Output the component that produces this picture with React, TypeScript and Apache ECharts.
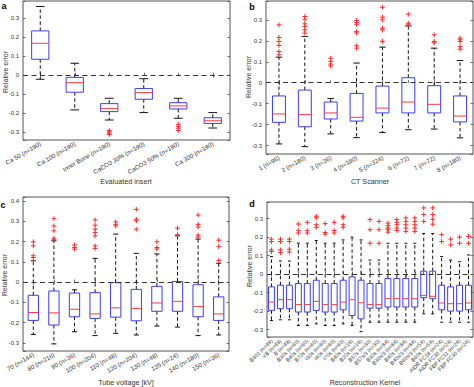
import React, { useEffect, useRef } from 'react';
import * as echarts from 'echarts';

// ---------- data: [min, Q1, median, Q3, max] ----------
const catsA = ['Ca 50 (n=190)', 'Ca 100 (n=190)', 'Inner Bone (n=190)', 'CaCO3 30% (n=190)', 'CaCO3 50% (n=190)', 'Ca 300 (n=190)'];
const boxesA = [
  [-0.021, 0.084, 0.168, 0.233, 0.361],
  [-0.182, -0.089, -0.039, -0.011, 0.063],
  [-0.235, -0.191, -0.175, -0.149, -0.121],
  [-0.196, -0.126, -0.091, -0.07, -0.018],
  [-0.226, -0.177, -0.161, -0.144, -0.121],
  [-0.277, -0.253, -0.239, -0.223, -0.196],
];
const outliersA = [
  [2, -0.29], [2, -0.297], [2, -0.304], [2, -0.311],
  [4, -0.258], [4, -0.268], [4, -0.278], [4, -0.29],
];

const catsB = ['1 (n=96)', '2 (n=180)', '3 (n=36)', '4 (n=180)', '5 (n=324)', '6 (n=72)', '7 (n=72)', '8 (n=180)'];
const boxesB = [
  [-0.292, -0.189, -0.149, -0.063, 0.122],
  [-0.305, -0.21, -0.152, -0.035, 0.221],
  [-0.244, -0.173, -0.144, -0.092, -0.075],
  [-0.262, -0.183, -0.165, -0.051, 0.094],
  [-0.237, -0.144, -0.121, -0.016, 0.17],
  [-0.224, -0.144, -0.092, 0.024, 0.271],
  [-0.221, -0.144, -0.103, -0.014, 0.165],
  [-0.263, -0.187, -0.159, -0.063, 0.106],
];
const outliersB = [
  [0, 0.276], [0, 0.216], [0, 0.197], [0, 0.178], [0, 0.149], [0, 0.133],
  [1, 0.316], [1, 0.303], [1, 0.281], [1, 0.268], [1, 0.252], [1, 0.237],
  [2, 0.117], [2, 0.102], [2, 0.089], [2, 0.08],
  [3, 0.297], [3, 0.287], [3, 0.279], [3, 0.244], [3, 0.237], [3, 0.176], [3, 0.165],
  [4, 0.36], [4, 0.313], [4, 0.3], [4, 0.26], [4, 0.252], [4, 0.197],
  [5, 0.327], [5, 0.284], [5, 0.276],
  [6, 0.229], [6, 0.197], [6, 0.19],
  [7, 0.213], [7, 0.205], [7, 0.197], [7, 0.173], [7, 0.16],
];

const catsC = ['70 (n=144)', '80 (n=216)', '90 (n=36)', '100 (n=204)', '110 (n=48)', '120 (n=204)', '130 (n=48)', '135 (n=24)', '140 (n=180)', '150 (n=36)'];
const boxesC = [
  [-0.258, -0.189, -0.15, -0.065, 0.105],
  [-0.305, -0.212, -0.152, -0.044, 0.204],
  [-0.245, -0.171, -0.134, -0.054, -0.038],
  [-0.264, -0.179, -0.157, -0.052, 0.117],
  [-0.253, -0.173, -0.127, -0.003, 0.237],
  [-0.261, -0.191, -0.131, -0.036, 0.142],
  [-0.217, -0.144, -0.103, -0.021, 0.139],
  [-0.222, -0.144, -0.095, 0.003, 0.228],
  [-0.264, -0.171, -0.121, -0.013, 0.212],
  [-0.261, -0.189, -0.157, -0.073, 0.093],
];
const outliersC = [
  [0, 0.199], [0, 0.179], [0, 0.13], [0, 0.121],
  [1, 0.313], [1, 0.277], [1, 0.253], [1, 0.217], [1, 0.209],
  [2, 0.183], [2, 0.171], [2, 0.163],
  [3, 0.307], [3, 0.281], [3, 0.261], [3, 0.245], [3, 0.228], [3, 0.179], [3, 0.166],
  [4, 0.297], [4, 0.285], [4, 0.277],
  [5, 0.359], [5, 0.31], [5, 0.302], [5, 0.261],
  [6, 0.199], [6, 0.171], [6, 0.163],
  [7, 0.266], [7, 0.234],
  [8, 0.331], [8, 0.285], [8, 0.272], [8, 0.232], [8, 0.222],
  [9, 0.207], [9, 0.175], [9, 0.106],
];

const catsD = [
  'B401 (n=48)', 'YB (n=48)', 'B (n=48)', 'B30s (n=60)', 'B40s (n=60)', 'B70s (n=60)',
  'I30s (n=60)', 'I40s (n=60)', 'I70s (n=60)', 'B40s (n=18)', 'B20s (n=18)', 'B57s (n=30)',
  'B57s/3 (n=30)', 'B30s (n=84)', 'B30s/3 (n=84)', 'B40s (n=84)', 'B40s/3 (n=84)', 'B60s/3 (n=54)',
  'B60s (n=54)', 'AIDR FC18 (n=24)', 'AIDR FC30 (n=24)', 'FBP FC11 (n=24)', 'FBP FC30 (n=24)',
];
const boxesD = [
  [-0.251, -0.196, -0.151, -0.069, 0.095],
  [-0.247, -0.187, -0.138, -0.06, 0.071],
  [-0.247, -0.187, -0.138, -0.06, 0.071],
  [-0.278, -0.205, -0.165, -0.051, 0.167],
  [-0.278, -0.205, -0.165, -0.051, 0.167],
  [-0.269, -0.196, -0.147, -0.033, 0.182],
  [-0.278, -0.205, -0.165, -0.051, 0.167],
  [-0.278, -0.205, -0.165, -0.051, 0.167],
  [-0.269, -0.193, -0.151, -0.033, 0.185],
  [-0.278, -0.224, -0.138, -0.015, 0.2],
  [-0.311, -0.242, -0.155, -0.033, 0.185],
  [-0.26, -0.184, -0.164, -0.051, 0.076],
  [-0.26, -0.184, -0.165, -0.051, 0.076],
  [-0.26, -0.178, -0.133, -0.024, 0.167],
  [-0.26, -0.178, -0.133, -0.024, 0.167],
  [-0.26, -0.178, -0.133, -0.024, 0.167],
  [-0.26, -0.178, -0.133, -0.024, 0.167],
  [-0.215, -0.127, -0.115, 0.016, 0.22],
  [-0.215, -0.133, -0.12, 0.016, 0.22],
  [-0.26, -0.193, -0.156, -0.06, 0.095],
  [-0.26, -0.2, -0.16, -0.069, 0.076],
  [-0.26, -0.2, -0.16, -0.06, 0.067],
  [-0.26, -0.193, -0.156, -0.06, 0.104],
];
const outliersD = [
  [0, 0.189], [0, 0.176], [0, 0.131], [0, 0.122],
  [1, 0.189], [1, 0.176], [1, 0.131], [1, 0.116],
  [2, 0.189], [2, 0.176], [2, 0.135], [2, 0.12],
  [3, 0.271], [3, 0.235], [3, 0.222],
  [4, 0.28], [4, 0.235], [4, 0.222],
  [5, 0.313], [5, 0.304], [5, 0.267], [5, 0.253],
  [6, 0.273], [6, 0.225], [6, 0.216],
  [7, 0.28], [7, 0.236], [7, 0.222],
  [8, 0.313], [8, 0.304], [8, 0.267], [8, 0.253],
  [11, 0.295], [11, 0.24], [11, 0.167],
  [12, 0.285], [12, 0.24], [12, 0.167],
  [13, 0.276], [13, 0.262], [13, 0.249], [13, 0.24], [13, 0.227],
  [14, 0.295], [14, 0.28], [14, 0.267], [14, 0.249], [14, 0.236],
  [15, 0.304], [15, 0.285], [15, 0.267], [15, 0.249], [15, 0.231],
  [16, 0.304], [16, 0.285], [16, 0.267], [16, 0.249], [16, 0.231],
  [17, 0.358], [17, 0.322], [17, 0.285],
  [18, 0.358], [18, 0.322], [18, 0.296], [18, 0.27],
  [19, 0.213], [19, 0.176],
  [20, 0.189], [20, 0.158],
  [21, 0.2], [21, 0.167],
  [22, 0.204], [22, 0.167],
];

const FONT = '"Liberation Sans", Arial, sans-serif';
const BOX = '#3d3df2';
const MED = '#ff3b3b';
const OUT = '#ff2b2b';

const panels = [
  { cats: catsA, boxes: boxesA, outliers: outliersA, grid: { left: 23, top: 1, width: 207, height: 139 }, yMax: 0.39, rotate: 30, labelSize: 6.2, ratio: 0.5 },
  { cats: catsB, boxes: boxesB, outliers: outliersB, grid: { left: 266, top: 1, width: 207, height: 153 }, yMax: 0.39, rotate: 30, labelSize: 6.2, ratio: 0.5 },
  { cats: catsC, boxes: boxesC, outliers: outliersC, grid: { left: 23, top: 197, width: 206, height: 154 }, yMax: 0.42, rotate: 30, labelSize: 6.2, ratio: 0.5 },
  { cats: catsD, boxes: boxesD, outliers: outliersD, grid: { left: 267, top: 202, width: 206, height: 135 }, yMax: 0.39, rotate: 45, labelSize: 5.4, ratio: 0.66 },
];

function boxRender(ratio: number) {
  return (_params: any, api: any) => {
    const i = api.value(0);
    const mn = api.value(1), q1 = api.value(2), md = api.value(3), q3 = api.value(4), mx = api.value(5);
    const band = api.size([1, 0])[0];
    const bw = band * ratio;
    const cw = bw / 2;
    const p = (v: number) => api.coord([i, v]);
    const x = p(md)[0];
    const yMin = p(mn)[1], yQ1 = p(q1)[1], yMd = p(md)[1], yQ3 = p(q3)[1], yMax = p(mx)[1];
    const dash = { stroke: '#111', lineWidth: 1, lineDash: [3.5, 2.5] };
    const solid = { stroke: '#111', lineWidth: 1 };
    return {
      type: 'group',
      children: [
        { type: 'line', shape: { x1: x, y1: yQ3, x2: x, y2: yMax }, style: dash },
        { type: 'line', shape: { x1: x, y1: yQ1, x2: x, y2: yMin }, style: dash },
        { type: 'line', shape: { x1: x - cw / 2, y1: yMax, x2: x + cw / 2, y2: yMax }, style: solid },
        { type: 'line', shape: { x1: x - cw / 2, y1: yMin, x2: x + cw / 2, y2: yMin }, style: solid },
        { type: 'rect', shape: { x: x - bw / 2, y: yQ3, width: bw, height: yQ1 - yQ3 }, style: { fill: 'none', stroke: BOX, lineWidth: 1 } },
        { type: 'line', shape: { x1: x - bw / 2, y1: yMd, x2: x + bw / 2, y2: yMd }, style: { stroke: MED, lineWidth: 1 } },
      ],
    };
  };
}

function outlierRender(_params: any, api: any) {
  const [x, y] = api.coord([api.value(0), api.value(1)]);
  const s = 2.4;
  const st = { stroke: OUT, lineWidth: 1 };
  return {
    type: 'group',
    children: [
      { type: 'line', shape: { x1: x - s, y1: y, x2: x + s, y2: y }, style: st },
      { type: 'line', shape: { x1: x, y1: y - s, x2: x, y2: y + s }, style: st },
    ],
  };
}

const yFmt = (v: number) => {
  const r = Math.round(v * 10) / 10;
  if (Math.abs(v - r) > 1e-6) return '';
  if (Math.abs(r) < 1e-9) return '0';
  return String(r);
};

function buildOption() {
  const grid: any[] = [];
  const xAxis: any[] = [];
  const yAxis: any[] = [];
  const series: any[] = [];
  panels.forEach((pn, k) => {
    grid.push({ ...pn.grid, show: true, borderColor: '#555', borderWidth: 1, backgroundColor: '#fff' });
    const tick = { show: true, inside: true, length: 2.5, alignWithLabel: true, lineStyle: { color: '#444', width: 0.8 } };
    xAxis.push({
      type: 'category', gridIndex: k, data: pn.cats, boundaryGap: true,
      axisLine: { show: false }, axisTick: tick, splitLine: { show: false },
      axisLabel: { interval: 0, rotate: pn.rotate, fontSize: pn.labelSize, color: '#333', margin: 3, fontFamily: FONT },
    });
    xAxis.push({
      type: 'category', gridIndex: k, position: 'top', data: pn.cats, boundaryGap: true,
      axisLine: { show: false }, axisTick: tick, axisLabel: { show: false }, splitLine: { show: false },
    });
    const yTick = { show: true, inside: true, length: 2.5, lineStyle: { color: '#444', width: 0.8 } };
    yAxis.push({
      type: 'value', gridIndex: k, min: -0.34, max: pn.yMax, splitNumber: 7,
      axisLine: { show: false }, axisTick: yTick, splitLine: { show: false },
      axisLabel: { formatter: yFmt, fontSize: 6, color: '#333', margin: 4, fontFamily: FONT },
    });
    yAxis.push({
      type: 'value', gridIndex: k, position: 'right', min: -0.34, max: pn.yMax, splitNumber: 7,
      axisLine: { show: false }, axisTick: yTick, splitLine: { show: false }, axisLabel: { show: false },
    });
    series.push({
      type: 'custom', xAxisIndex: 2 * k, yAxisIndex: 2 * k,
      data: pn.boxes.map((b, i) => [i, ...b]),
      encode: { x: 0, y: [1, 2, 3, 4, 5] },
      renderItem: boxRender(pn.ratio),
      markLine: {
        silent: true, symbol: ['none', 'none'], label: { show: false },
        lineStyle: { color: '#333', type: [5, 3.5], width: 1.2 },
        data: [{ yAxis: 0 }],
      },
    });
    series.push({
      type: 'custom', xAxisIndex: 2 * k, yAxisIndex: 2 * k,
      data: pn.outliers,
      encode: { x: 0, y: 1 },
      renderItem: outlierRender,
    });
  });

  const txt = (x: number, y: number, text: string, extra: any = {}) => ({
    type: 'text', x, y,
    style: { text, fontSize: 7, fill: '#333', fontFamily: FONT, textAlign: 'center', textVerticalAlign: 'middle', ...extra.style },
    ...extra.el,
  });
  const graphic = [
    txt(5, 72, 'Relative error', { el: { rotation: Math.PI / 2 } }),
    txt(248, 77, 'Relative error', { el: { rotation: Math.PI / 2 } }),
    txt(4, 275, 'Relative error', { el: { rotation: Math.PI / 2 } }),
    txt(249, 266, 'Relative error', { el: { rotation: Math.PI / 2 } }),
    txt(126, 181, 'Evaluated insert', { style: { fontSize: 7.2 } }),
    txt(370, 181, 'CT Scanner', { style: { fontSize: 7.2 } }),
    txt(126, 382, 'Tube voltage [kV]', { style: { fontSize: 7.2 } }),
    txt(365, 382, 'Reconstruction Kernel', { style: { fontSize: 7.2 } }),
    txt(4, 6, 'a', { style: { fontSize: 9, fontWeight: 'bold', fill: '#000' } }),
    txt(252, 7, 'b', { style: { fontSize: 9, fontWeight: 'bold', fill: '#000' } }),
    txt(3, 205, 'c', { style: { fontSize: 9, fontWeight: 'bold', fill: '#000' } }),
    txt(252, 204, 'd', { style: { fontSize: 9, fontWeight: 'bold', fill: '#000' } }),
  ];

  return { animation: false, backgroundColor: '#fff', textStyle: { fontFamily: FONT }, grid, xAxis, yAxis, series, graphic };
}

export default function App() {
  const ref = useRef<HTMLDivElement>(null);
  useEffect(() => {
    document.body.style.margin = '0';
    if (!ref.current) return;
    const chart = echarts.init(ref.current, undefined, { renderer: 'svg' });
    chart.setOption(buildOption() as any);
    return () => chart.dispose();
  }, []);
  return <div ref={ref} style={{ width: 474, height: 387 }} />;
}
